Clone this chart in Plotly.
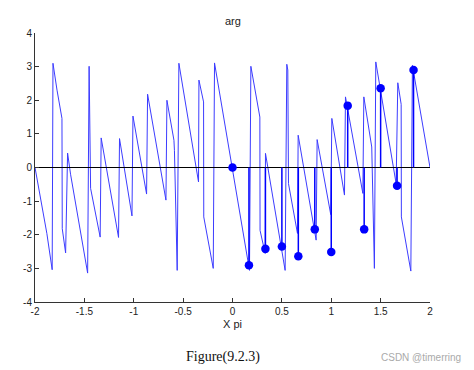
import plotly.graph_objects as go

# Phase curve (x in units of pi)
line_x = [-2.0, -1.88, -1.826, -1.818, -1.777, -1.727, -1.724, -1.69, -1.67, -1.64,
          -1.467, -1.452, -1.437, -1.34, -1.33, -1.154, -1.144, -1.018, -1.008, -0.87,
          -0.86, -0.674, -0.664, -0.593, -0.588, -0.56, -0.543, -0.344, -0.34, -0.293,
          -0.291, -0.195, -0.182, 0.0, 0.172, 0.186, 0.23, 0.277, 0.279, 0.331,
          0.334, 0.533, 0.55, 0.56, 0.567, 0.658, 0.665, 0.847, 0.857, 0.995,
          1.006, 1.134, 1.144, 1.32, 1.33, 1.41, 1.437, 1.451, 1.657, 1.674,
          1.708, 1.71, 1.806, 1.822, 2.0]
line_y = [0.0, -1.96, -3.04, 3.1, 2.3, 1.46, -1.82, -2.54, 0.43, -0.2,
          -3.14, 3.01, -0.62, -2.07, 0.88, -2.08, 0.86, -1.44, 1.53, -0.79,
          2.18, -0.97, 2.0, 0.81, 0.5, -3.06, 3.1, -0.43, 2.6, 1.95,
          -1.47, -3.0, 3.11, 0.0, -3.06, 3.01, 2.3, 1.5, -1.87, -2.56,
          0.42, -3.06, 3.07, 2.9, -0.48, -1.96, 0.96, -2.16, 0.83, -1.4,
          1.46, -0.82, 2.1, -0.77, 2.1, 0.61, -3.0, 3.14, -0.48, 2.52,
          1.88, -1.47, -3.08, 3.04, 0.0]

# DFT samples (stems)
stem_x = [0, 1/6, 2/6, 3/6, 4/6, 5/6, 1.0, 7/6, 8/6, 9/6, 10/6, 11/6]
stem_y = [0.0, -2.91, -2.42, -2.35, -2.64, -1.84, -2.51, 1.84, -1.84, 2.36, -0.54, 2.9]

x_range = [-2, 2]
y_range = [-4, 4]
x_ticks = [-2, -1.5, -1, -0.5, 0, 0.5, 1, 1.5, 2]
x_labels = ["-2", "-1.5", "-1", "-0.5", "0", "0.5", "1", "1.5", "2"]
y_ticks = [-4, -3, -2, -1, 0, 1, 2, 3, 4]
y_labels = ["-4", "-3", "-2", "-1", "0", "1", "2", "3", "4"]

fig = go.Figure()

fig.add_trace(go.Scatter(x=line_x, y=line_y, mode="lines",
                         line=dict(color="rgb(60,60,255)", width=1),
                         hoverinfo="skip", showlegend=False))

# baseline
fig.add_trace(go.Scatter(x=x_range, y=[0, 0], mode="lines",
                         line=dict(color="black", width=1),
                         hoverinfo="skip", showlegend=False))

# stems
sx, sy = [], []
for xv, yv in zip(stem_x, stem_y):
    sx += [xv, xv, None]
    sy += [0, yv, None]
fig.add_trace(go.Scatter(x=sx, y=sy, mode="lines",
                         line=dict(color="blue", width=1.5),
                         hoverinfo="skip", showlegend=False))
fig.add_trace(go.Scatter(x=stem_x, y=stem_y, mode="markers",
                         marker=dict(color="blue", size=8.5),
                         showlegend=False))

axis_font = dict(family="Liberation Sans, Arial, sans-serif", size=10, color="#222")

# page body has an 8px margin: figure is offset by (8, 8) in the window
OFF = 8
W, H = 474 - OFF, 370 - OFF
L, R, T, B = 35 - OFF, 44, 33 - OFF, 68

fig.update_layout(
    width=W, height=H,
    margin=dict(l=L, r=R, t=T, b=B),
    paper_bgcolor="white", plot_bgcolor="white",
    showlegend=False,
    xaxis=dict(range=x_range, tickvals=x_ticks, ticktext=x_labels,
               showgrid=False, zeroline=False, showline=True, linecolor="#333",
               linewidth=1, ticks="inside", ticklen=4, tickcolor="#333",
               tickfont=axis_font, mirror=False),
    yaxis=dict(range=y_range, tickvals=y_ticks, ticktext=y_labels,
               showgrid=False, zeroline=False, showline=True, linecolor="#333",
               linewidth=1, ticks="inside", ticklen=4, tickcolor="#333",
               tickfont=axis_font, mirror=False),
    annotations=[
        dict(text="arg", x=0.5, y=1.0, xref="paper", yref="paper",
             xanchor="center", yanchor="bottom", yshift=4, showarrow=False,
             font=dict(family="Liberation Sans, Arial, sans-serif", size=11, color="#222")),
        dict(text="X pi", x=0.5, y=0, xref="paper", yref="paper",
             xanchor="center", yanchor="top", yshift=-14, showarrow=False,
             font=dict(family="Liberation Sans, Arial, sans-serif", size=11, color="#222")),
        dict(text="Figure(9.2.3)", x=223, y=357, xref="paper", yref="paper",
             showarrow=False, font=dict(family="Liberation Serif, Times New Roman, serif",
                                         size=14, color="#111")),
        dict(text="CSDN @timerring", x=421, y=357, xref="paper", yref="paper",
             showarrow=False, font=dict(family="Liberation Sans, Arial, sans-serif",
                                         size=10, color="#aaa")),
    ],
)

# convert the window-pixel-placed captions to paper coordinates
pw = W - L - R
ph = H - T - B
anns = list(fig.layout.annotations)
for a in anns[2:]:
    px, py = a.x - OFF, a.y - OFF
    a.x = (px - L) / pw
    a.y = 1 - (py - T) / ph
    a.xanchor = "center"
    a.yanchor = "middle"
fig.layout.annotations = anns

fig.write_html("out.html")
